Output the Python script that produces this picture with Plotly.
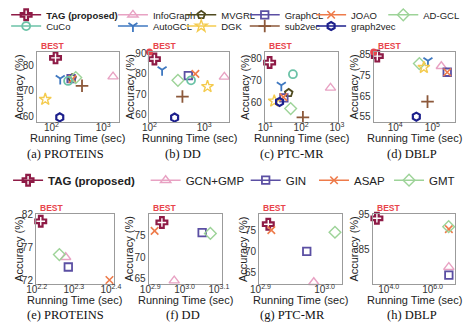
import math
import plotly.graph_objects as go

W, H = 474, 330

# ---------------- data ----------------
methods_top = ["TAG (proposed)", "InfoGraph", "MVGRL", "GraphCL", "JOAO", "AD-GCL",
               "CuCo", "AutoGCL", "DGK", "sub2vec", "graph2vec"]
# running time (sec) and accuracy (%), same order as methods_top (None = not shown)
time_proteins = [120, 1550, 250, 240, 255, 295, 210, 148, 76, 390, 145]
acc_proteins = [82.9, 75.6, 75.0, 74.8, 74.6, 75.2, 73.9, 74.9, 66.7, 72.0, 59.7]
time_dd = [123, 2340, None, 513, 690, 331, 575, 170, 1150, 400, 288]
acc_dd = [87.3, 78.5, None, 79.1, 80.0, 76.8, 76.8, 82.0, 73.7, 68.8, 58.4]
time_ptc = [13.2, 660, 45, 33, 32, 51, 59, 28, 17.8, 112, 25]
acc_ptc = [78.2, 66.7, 64.4, 62.2, 62.5, 57.3, 72.9, 67.9, 60.7, 53.3, 60.3]
time_dblp = [3300, 174000, None, 251000, 251000, 44700, None, 76000, 59000, 74000, 37000]
acc_dblp = [84.3, 79.4, None, 76.5, 76.5, 80.7, None, 82.0, 78.8, 62.3, 55.0]

methods_bot = ["TAG (proposed)", "GCN+GMP", "GIN", "ASAP", "GMT"]
time_proteins_b = [162.5, 189.7, 192.8, 248.9, 182.4]
acc_proteins_b = [81.0, 75.5, 74.0, 72.0, 75.9]
time_dd_b = [859, 933, 1125, 818, 1189]
acc_dd_b = [78.2, 64.4, 75.8, 76.2, 75.6]
time_ptc_b = [817, 962, 938, 826, 1038]
acc_ptc_b = [76.4, 62.7, 70.0, 75.0, 74.5]
time_dblp_b = [2900, 5.5e6, 5.5e6, 5.5e6, 5.4e6]
acc_dblp_b = [94.0, 80.0, 77.7, 90.9, 91.6]

captions = ["(a) PROTEINS", "(b) DD", "(c) PTC-MR", "(d) DBLP",
            "(e) PROTEINS", "(f) DD", "(g) PTC-MR", "(h) DBLP"]

# tick exponents (x, log scale) and y ticks
xtick_exp = [[2, 3], [2, 3], [1, 2, 3], [4, 5],
             [2.2, 2.3, 2.4], [2.9, 3.0, 3.1], [2.9, 3.0], [4.0, 6.0]]
ytick_vals = [[60, 70, 80], [60, 70, 80, 90], [60, 70, 80], [55, 65, 75, 85],
              [72, 77, 82], [65, 70, 75], [65, 70, 75], [75, 85, 95]]

# ---------------- styles / layout geometry ----------------
style = {
    "TAG (proposed)": ("#8E1B46", "cross-open", 9, 2.2),
    "InfoGraph": ("#E8A2C3", "triangle-up-open", 9, 1.4),
    "MVGRL": ("#4F4A1F", "pentagon-open", 8, 1.8),
    "GraphCL": ("#5B4FA3", "square-open", 7.5, 1.8),
    "JOAO": ("#EE7B4A", "x-thin-open", 7.5, 1.6),
    "AD-GCL": ("#9DD398", "diamond-open", 9, 1.4),
    "CuCo": ("#6BC2A7", "circle-open", 8, 1.8),
    "AutoGCL": ("#3F78C0", "y-down-open", 7.5, 1.8),
    "DGK": ("#F4CB4E", "star-open", 9, 1.4),
    "sub2vec": ("#8C583A", "cross-thin-open", 9, 1.8),
    "graph2vec": ("#1C1F8C", "hexagon-open", 8, 2.2),
    "GCN+GMP": ("#E8A2C3", "triangle-up-open", 9, 1.4),
    "GIN": ("#5B4FA3", "square-open", 7.5, 1.8),
    "ASAP": ("#EE7B4A", "x-thin-open", 7.5, 1.6),
    "GMT": ("#9DD398", "diamond-open", 9, 1.4),
}
BEST_RED = "#E8444B"
SANS = "Liberation Sans, Arial, sans-serif"
SERIF = "Liberation Serif, Times New Roman, serif"

panels = [
    (methods_top, time_proteins, acc_proteins, [1.72, 3.30], [57.7, 85.2]),
    (methods_top, time_dd, acc_dd, [2.0, 3.46], [56.0, 90.8]),
    (methods_top, time_ptc, acc_ptc, [0.99, 3.03], [51.0, 83.0]),
    (methods_top, time_dblp, acc_dblp, [3.42, 5.62], [52.2, 86.3]),
    (methods_bot, time_proteins_b, acc_proteins_b, [2.198, 2.408], [71.4, 82.05]),
    (methods_bot, time_dd_b, acc_dd_b, [2.895, 3.108], [63.6, 80.1]),
    (methods_bot, time_ptc_b, acc_ptc_b, [2.898, 3.027], [62.3, 78.7]),
    (methods_bot, time_dblp_b, acc_dblp_b, [3.27, 7.04], [75.2, 95.1]),
]
xbox = [(28, 113), (145, 228), (265, 341), (378, 463),
        (27, 108), (144, 220), (259, 345), (377, 463)]
ybox_top, ybox_bot = (48, 120), (214, 285)
ytitle_x = [10, 125, 245, 358, 10, 124, 242, 358]
caption_x = [58, 180, 293, 418, 58, 180, 294, 418]

# legend placement (left px, centre-y px) — one legend box per entry
top_leg_pos = {
    "TAG (proposed)": (-4, 10), "InfoGraph": (107, 10), "MVGRL": (178, 10),
    "GraphCL": (244, 10), "JOAO": (313, 10), "AD-GCL": (388, 10),
    "CuCo": (-4, 21.5), "AutoGCL": (107, 21.5), "DGK": (178, 21.5),
    "sub2vec": (244, 21.5), "graph2vec": (313, 21.5),
}
bot_leg_pos = {
    "TAG (proposed)": (-2, 179), "GCN+GMP": (141, 179), "GIN": (245, 179),
    "ASAP": (316, 179), "GMT": (394, 179),
}
legend_ids = {}
li = 0
for row, group in enumerate((top_leg_pos, bot_leg_pos)):
    for m in group:
        li += 1
        legend_ids[(row, m)] = "legend" if li == 1 else f"legend{li}"

fig = go.Figure()
layout = dict(width=W, height=H, margin=dict(l=0, r=0, t=0, b=0),
              paper_bgcolor="white", plot_bgcolor="white", showlegend=True,
              font=dict(family=SANS, color="#222"))
annotations = []

for i, (methods, times, accs, xr, yr) in enumerate(panels):
    k = i + 1
    xa = "x" if k == 1 else f"x{k}"
    ya = "y" if k == 1 else f"y{k}"
    x0, x1 = xbox[i]
    yb = ybox_top if i < 4 else ybox_bot
    fontsz = 10
    layout["xaxis" if k == 1 else f"xaxis{k}"] = dict(
        domain=[x0 / W, x1 / W], anchor=ya, type="log", range=xr,
        showline=True, mirror=True, linecolor="#9B9B9B", linewidth=1,
        showgrid=False, zeroline=False, ticks="", ticklabelstandoff=-4,
        tickvals=[10 ** e for e in xtick_exp[i]],
        ticktext=[("10<sup>%d</sup>" % e) if i < 4 else ("10<sup>%.1f</sup>" % e) for e in xtick_exp[i]],
        tickfont=dict(size=fontsz, color="#333"), fixedrange=True)
    layout["yaxis" if k == 1 else f"yaxis{k}"] = dict(
        domain=[1 - yb[1] / H, 1 - yb[0] / H], anchor=xa, range=yr,
        showline=True, mirror=True, linecolor="#9B9B9B", linewidth=1,
        showgrid=False, zeroline=False, ticks="",
        tickvals=ytick_vals[i], tickfont=dict(size=fontsz, color="#333"), fixedrange=True)

    # data points (first panel of each row also feeds its legend)
    row = 0 if i < 4 else 1
    first_in_row = i in (0, 4)
    for m, t, a in zip(methods, times, accs):
        if t is None:
            continue
        c, sym, sz, lw = style[m]
        tr = dict(x=[t], y=[a], xaxis=xa, yaxis=ya, cliponaxis=False, hoverinfo="skip",
                  marker=dict(symbol=sym, size=sz, color=c, line=dict(color=c, width=lw)))
        if first_in_row:
            name = "<b>TAG (proposed)</b>" if m.startswith("TAG") else m
            tr.update(mode="lines+markers", name=name, showlegend=True,
                      legend=legend_ids[(row, m)], line=dict(color=c, width=1.5))
        else:
            tr.update(mode="markers", showlegend=False)
        fig.add_trace(go.Scatter(**tr))
    # BEST ideal point at corner
    fig.add_trace(go.Scatter(
        x=[10 ** xr[0]], y=[yr[1]], mode="markers", xaxis=xa, yaxis=ya,
        showlegend=False, cliponaxis=False, hoverinfo="skip",
        marker=dict(symbol="circle", size=7, color=BEST_RED)))
    annotations.append(dict(x=xr[0], y=yr[1], xref=xa, yref=ya, text="<b>BEST</b>",
                            showarrow=False, xanchor="left", yanchor="bottom",
                            xshift=2, yshift=-1,
                            font=dict(size=8.5, color=BEST_RED, family=SANS)))
    # axis titles
    cx = (x0 + x1) / 2
    annotations.append(dict(x=cx / W, y=1 - (yb[1] + 16) / H, xref="paper", yref="paper",
                            text="Running Time (sec)", showarrow=False,
                            xanchor="center", yanchor="middle",
                            font=dict(size=11, color="#222", family=SANS)))
    annotations.append(dict(x=ytitle_x[i] / W, y=1 - ((yb[0] + yb[1]) / 2) / H,
                            xref="paper", yref="paper", text="Accuracy (%)",
                            showarrow=False, textangle=-90, xanchor="center", yanchor="middle",
                            font=dict(size=11, color="#222", family=SANS)))
    annotations.append(dict(x=caption_x[i] / W, y=1 - (yb[1] + 32) / H,
                            xref="paper", yref="paper", text=captions[i], showarrow=False,
                            xanchor="center", yanchor="middle",
                            font=dict(size=12.5, color="#111", family=SERIF)))

for row, (group, fsz) in enumerate(((top_leg_pos, 9.5), (bot_leg_pos, 11.5))):
    for m, (lx, ly) in group.items():
        layout[legend_ids[(row, m)]] = dict(
            x=lx / W, y=1 - ly / H, xanchor="left", yanchor="middle",
            orientation="v", bgcolor="rgba(0,0,0,0)", borderwidth=0,
            itemwidth=30, font=dict(size=fsz, color="#222", family=SANS))

layout["annotations"] = annotations
fig.update_layout(**layout)
fig.write_html("out.html")
